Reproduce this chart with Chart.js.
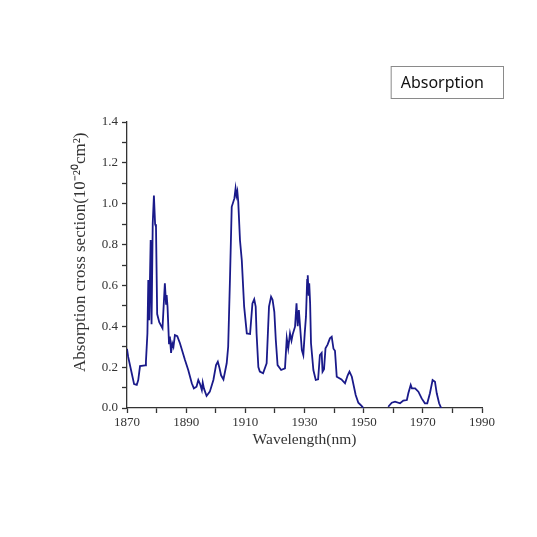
<!DOCTYPE html>
<html>
<head>
<meta charset="utf-8">
<script src="https://cdn.jsdelivr.net/npm/chart.js@4"></script>
<style>
  html, body { margin: 0; padding: 0; background: #fff; }
  canvas { display: block; }
</style>
</head>
<body>
<canvas id="grafico" width="537" height="537"></canvas>
<script>
const wavelength = [
  1870.0, 1870.4, 1871.6, 1872.4, 1873.3, 1873.8, 1874.4, 1876.1, 1876.4, 1876.9,
  1877.2, 1877.5, 1878.0, 1878.3, 1878.7, 1879.1, 1879.5, 1879.8, 1880.2, 1880.9,
  1882.0, 1882.5, 1882.8, 1883.2, 1883.4, 1883.7, 1884.2, 1884.5, 1884.9, 1885.3,
  1885.7, 1886.2, 1887.0, 1887.9, 1889.6, 1890.7, 1891.9, 1892.6, 1893.5, 1894.1,
  1894.7, 1895.3, 1895.6, 1896.0, 1896.9, 1898.0, 1899.2, 1900.1, 1900.7, 1901.2,
  1901.8, 1902.6, 1903.7, 1904.2, 1904.8, 1905.4, 1906.3, 1906.7, 1907.0, 1907.3,
  1907.6, 1908.2, 1908.8, 1909.6, 1910.5, 1911.6, 1912.4, 1913.0, 1913.5, 1913.8,
  1914.4, 1914.9, 1916.0, 1917.2, 1918.0, 1918.7, 1919.2, 1919.8, 1920.3, 1920.9,
  1922.1, 1923.4, 1924.0, 1924.5, 1925.1, 1925.6, 1926.0, 1926.8, 1927.3, 1927.7,
  1928.1, 1928.5, 1929.1, 1929.6, 1930.1, 1930.5, 1930.9, 1931.1, 1931.4, 1931.6,
  1931.9, 1932.2, 1933.0, 1933.8, 1934.6, 1935.2, 1935.8, 1936.1, 1936.6, 1937.1,
  1937.8, 1938.6, 1939.2, 1939.8, 1940.3, 1940.9, 1942.5, 1943.7, 1944.6, 1945.2,
  1946.0, 1947.3, 1948.2, 1949.3, 1949.9, 1954.0, 1958.3, 1959.5, 1960.6, 1962.3,
  1963.4, 1964.6, 1965.1, 1965.9, 1966.3, 1967.4, 1968.5, 1969.6, 1970.7, 1971.5,
  1972.4, 1973.3, 1974.1, 1974.7, 1975.5, 1976.2
];
const absorption = [
  0.29, 0.25, 0.17, 0.117, 0.113, 0.137, 0.205, 0.209, 0.227, 0.365,
  0.627, 0.43, 0.822, 0.41, 0.904, 1.04, 0.90, 0.887, 0.46, 0.42,
  0.39, 0.53, 0.61, 0.51, 0.553, 0.496, 0.317, 0.35, 0.27, 0.317,
  0.30, 0.357, 0.352, 0.317, 0.235, 0.186, 0.121, 0.096, 0.104, 0.137,
  0.117, 0.088, 0.124, 0.096, 0.059, 0.08, 0.137, 0.21, 0.227, 0.2,
  0.16, 0.14, 0.219, 0.30, 0.627, 0.985, 1.026, 1.075, 1.04, 1.06,
  1.01, 0.82, 0.724, 0.496, 0.365, 0.362, 0.512, 0.532, 0.496, 0.365,
  0.20, 0.178, 0.17, 0.219, 0.496, 0.545, 0.53, 0.471, 0.333, 0.21,
  0.186, 0.194, 0.341, 0.292, 0.365, 0.33, 0.36, 0.398, 0.512, 0.40,
  0.48, 0.40, 0.284, 0.259, 0.37, 0.447, 0.627, 0.65, 0.55, 0.61,
  0.512, 0.317, 0.186, 0.137, 0.14, 0.259, 0.27, 0.178, 0.19, 0.292,
  0.31, 0.341, 0.349, 0.29, 0.28, 0.153, 0.14, 0.121, 0.16, 0.178,
  0.153, 0.064, 0.026, 0.01, 0.0, null, 0.006, 0.026, 0.031, 0.023,
  0.036, 0.039, 0.072, 0.113, 0.096, 0.096, 0.08, 0.047, 0.023, 0.023,
  0.072, 0.137, 0.129, 0.072, 0.023, 0.0
];
const xTicks = [1870, 1890, 1910, 1930, 1950, 1970, 1990];
const yTicks = [0.0, 0.2, 0.4, 0.6, 0.8, 1.0, 1.2, 1.4];
const seriesName = 'Absorption';

const tickFont = { family: '"Liberation Serif"', size: 13 };
const axisColor = '#333333';

// leyenda con marco, como en el original
const legendBox = {
  id: 'legendBox',
  afterDraw(chart) {
    const ctx = chart.ctx;
    const label = chart.data.datasets[0].label;
    ctx.save();
    ctx.font = '16px "Noto Sans"';
    const w = ctx.measureText(label).width + 29;
    const h = 32;
    const x = chart.width - 34 - w;
    const y = 66;
    ctx.fillStyle = '#fff';
    ctx.fillRect(x, y, w, h);
    ctx.strokeStyle = '#8a8a8a';
    ctx.lineWidth = 1;
    ctx.strokeRect(x + 0.5, y + 0.5, w, h);
    ctx.fillStyle = '#111';
    ctx.textBaseline = 'middle';
    ctx.fillText(label, x + 10, y + h / 2 + 1);
    ctx.restore();
  }
};

const ctxLine = document.getElementById('grafico').getContext('2d');
new Chart(ctxLine, {
  type: 'line',
  data: {
    datasets: [{
      label: seriesName,
      data: wavelength.map((w, i) => ({ x: w, y: absorption[i] })),
      borderColor: '#1a1a8a',
      borderWidth: 1.8,
      pointRadius: 0,
      tension: 0,
      spanGaps: false,
      fill: false
    }]
  },
  options: {
    responsive: false,
    animation: false,
    layout: { padding: { left: 60, top: 122, right: 55, bottom: 79 } },
    plugins: {
      legend: { display: false },
      tooltip: { enabled: false }
    },
    scales: {
      x: {
        type: 'linear',
        min: 1870,
        max: 1990,
        afterFit: s => { s.height = 50; },
        border: { color: axisColor, width: 1.3 },
        grid: { drawOnChartArea: false, tickLength: 5, tickColor: axisColor, tickWidth: 1.3 },
        ticks: {
          stepSize: 10,
          autoSkip: false,
          maxRotation: 0,
          padding: 2,
          color: '#333',
          font: tickFont,
          callback: v => xTicks.includes(v) ? String(v) : ''
        },
        title: {
          display: true,
          text: 'Wavelength(nm)',
          color: '#333',
          font: { family: '"Liberation Serif"', size: 15.5 },
          padding: { top: 0, bottom: 9 }
        }
      },
      y: {
        min: 0,
        max: 1.4,
        afterFit: s => { s.width = 67; },
        border: { color: axisColor, width: 1.3 },
        grid: { drawOnChartArea: false, tickLength: 5, tickColor: axisColor, tickWidth: 1.3 },
        ticks: {
          stepSize: 0.1,
          autoSkip: false,
          padding: 4,
          color: '#333',
          font: tickFont,
          callback: v => yTicks.some(t => Math.abs(t - v) < 1e-6) ? v.toFixed(1) : ''
        },
        title: {
          display: true,
          text: '      Absorption cross section(10⁻²⁰cm²)',
          color: '#333',
          font: { family: '"Liberation Serif"', size: 17 },
          padding: { top: 10, bottom: 0 }
        }
      }
    }
  },
  plugins: [legendBox]
});
</script>
</body>
</html>
